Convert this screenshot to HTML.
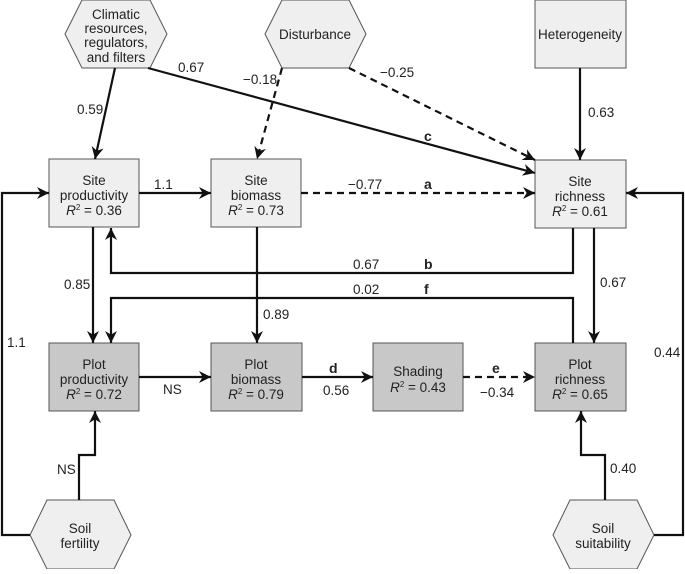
<!DOCTYPE html>
<html><head><meta charset="utf-8"><style>
body{margin:0;background:#fff}
text{font-family:"Liberation Sans",sans-serif;font-size:13.5px;fill:#222}
.b{font-weight:bold;font-size:14px}
</style></head><body>
<svg width="685" height="569" viewBox="0 0 685 569" xmlns="http://www.w3.org/2000/svg">
<defs>
<marker id="ar" viewBox="0 0 10 10" refX="10" refY="5" markerWidth="12" markerHeight="12" orient="auto" markerUnits="userSpaceOnUse"><path d="M0,0 L10,5 L0,10 L3,5 z" fill="#111"/></marker></defs>
<g stroke="#555" stroke-width="1">
<polygon points="65,34 82,0 150,0 167,34 150,68 82,68" fill="#efefef"/>
<polygon points="265,34 282,0 349,0 366,34 349,68 282,68" fill="#efefef"/>
<rect x="535" y="0" width="91" height="68" fill="#efefef"/>
<rect x="49" y="159" width="90" height="68" fill="#efefef"/>
<rect x="211" y="159" width="90" height="68" fill="#efefef"/>
<rect x="535" y="160" width="91" height="68" fill="#efefef"/>
<rect x="49" y="343" width="90" height="68" fill="#c8c8c8"/>
<rect x="211" y="343" width="91" height="68" fill="#c8c8c8"/>
<rect x="373" y="343" width="90" height="68" fill="#c8c8c8"/>
<rect x="535" y="343" width="91" height="68" fill="#c8c8c8"/>
<polygon points="30,535 47,500 114,500 131,535 114,569 47,569" fill="#efefef"/>
<polygon points="553,535 570,500 637,500 654,535 637,569 570,569" fill="#efefef"/>
</g>
<g stroke="#111" stroke-width="2.2" fill="none" marker-end="url(#ar)">
<line x1="115" y1="68" x2="95" y2="159"/>
<line x1="148" y1="68" x2="535" y2="173"/>
<line x1="282" y1="68" x2="257" y2="159" stroke-dasharray="7,5"/>
<line x1="349" y1="68" x2="535" y2="160" stroke-dasharray="7,5"/>
<line x1="580" y1="68" x2="580" y2="160"/>
<line x1="139" y1="193" x2="211" y2="193"/>
<line x1="301" y1="193" x2="535" y2="193" stroke-dasharray="7,5"/>
<polyline points="573,228 573,273 111,273 111,228"/>
<line x1="93" y1="227" x2="93" y2="343"/>
<polyline points="573,343 573,298 111,298 111,343"/>
<line x1="594" y1="228" x2="594" y2="343"/>
<line x1="257" y1="227" x2="257" y2="343"/>
<line x1="139" y1="377" x2="211" y2="377"/>
<line x1="302" y1="377" x2="373" y2="377"/>
<line x1="463" y1="377" x2="535" y2="377" stroke-dasharray="7,5"/>
<polyline points="79,500 79,455 95,455 95,411"/>
<polyline points="30,535 2,535 2,193 49,193"/>
<polyline points="605,500 605,455 581,455 581,411"/>
<polyline points="654,535 683,535 683,193 626,193"/>
</g>
<g text-anchor="middle">
<text x="116" y="19">Climatic</text><text x="116" y="33">resources,</text><text x="116" y="47">regulators,</text><text x="116" y="62">and filters</text>
<text x="315" y="39">Disturbance</text>
<text x="580" y="39">Heterogeneity</text>
<text x="94" y="185">Site</text><text x="94" y="200">productivity</text><text x="94" y="215"><tspan font-style="italic">R</tspan><tspan font-size="8" dy="-5">2</tspan><tspan dy="5"> = 0.36</tspan></text>
<text x="256" y="185">Site</text><text x="256" y="200">biomass</text><text x="256" y="215"><tspan font-style="italic">R</tspan><tspan font-size="8" dy="-5">2</tspan><tspan dy="5"> = 0.73</tspan></text>
<text x="580" y="186">Site</text><text x="580" y="201">richness</text><text x="580" y="216"><tspan font-style="italic">R</tspan><tspan font-size="8" dy="-5">2</tspan><tspan dy="5"> = 0.61</tspan></text>
<text x="94" y="369">Plot</text><text x="94" y="384">productivity</text><text x="94" y="399"><tspan font-style="italic">R</tspan><tspan font-size="8" dy="-5">2</tspan><tspan dy="5"> = 0.72</tspan></text>
<text x="256" y="369">Plot</text><text x="256" y="384">biomass</text><text x="256" y="399"><tspan font-style="italic">R</tspan><tspan font-size="8" dy="-5">2</tspan><tspan dy="5"> = 0.79</tspan></text>
<text x="418" y="376">Shading</text><text x="418" y="392"><tspan font-style="italic">R</tspan><tspan font-size="8" dy="-5">2</tspan><tspan dy="5"> = 0.43</tspan></text>
<text x="580" y="369">Plot</text><text x="580" y="384">richness</text><text x="580" y="399"><tspan font-style="italic">R</tspan><tspan font-size="8" dy="-5">2</tspan><tspan dy="5"> = 0.65</tspan></text>
<text x="80" y="533">Soil</text><text x="80" y="548">fertility</text>
<text x="603" y="533">Soil</text><text x="603" y="548">suitability</text>
</g>
<text x="77" y="114">0.59</text>
<text x="178" y="72">0.67</text>
<text x="243" y="84">−0.18</text>
<text x="380" y="77">−0.25</text>
<text x="588" y="117">0.63</text>
<text x="154" y="189">1.1</text>
<text x="348" y="189">−0.77</text>
<text class="b" x="424" y="189">a</text>
<text class="b" x="424" y="141">c</text>
<text x="353" y="269">0.67</text>
<text class="b" x="424" y="269">b</text>
<text x="64" y="289">0.85</text>
<text x="353" y="294">0.02</text>
<text class="b" x="424" y="294">f</text>
<text x="600" y="287">0.67</text>
<text x="263" y="319">0.89</text>
<text x="7" y="347">1.1</text>
<text x="163" y="394">NS</text>
<text class="b" x="329" y="373">d</text>
<text x="323" y="395">0.56</text>
<text class="b" x="492" y="373">e</text>
<text x="480" y="397">−0.34</text>
<text x="654" y="357">0.44</text>
<text x="57" y="474">NS</text>
<text x="610" y="473">0.40</text>
</svg>
</body></html>
